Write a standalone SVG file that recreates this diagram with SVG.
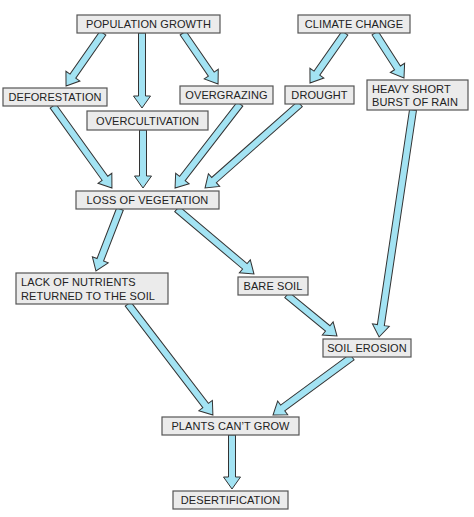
<svg xmlns="http://www.w3.org/2000/svg" width="474" height="517" viewBox="0 0 474 517">
<style>
.box rect{fill:#ebebeb;stroke:#555;stroke-width:1.2}
.box text{font-family:"Liberation Sans",Arial,sans-serif;font-size:11px;fill:#222;letter-spacing:0.1px}
.c{text-anchor:middle}
.arr{fill:#a3e3f3;stroke:#333;stroke-width:1;stroke-linejoin:miter}
</style>
<rect width="474" height="517" fill="#fff"/>
<g id="connectors">
<path class="arr" transform="translate(103,33) rotate(124.9)" d="M0,-3.5 H52.6 V-8.5 L64.6,0 L52.6,8.5 V3.5 H0 Z"/>
<path class="arr" transform="translate(142,33) rotate(90)" d="M0,-3.5 H63 V-8.5 L75,0 L63,8.5 V3.5 H0 Z"/>
<path class="arr" transform="translate(183,33) rotate(55.5)" d="M0,-3.5 H49.9 V-8.5 L61.9,0 L49.9,8.5 V3.5 H0 Z"/>
<path class="arr" transform="translate(345,33) rotate(125)" d="M0,-3.5 H49 V-8.5 L61,0 L49,8.5 V3.5 H0 Z"/>
<path class="arr" transform="translate(375,33) rotate(57.2)" d="M0,-3.5 H41.5 V-8.5 L53.5,0 L41.5,8.5 V3.5 H0 Z"/>
<path class="arr" transform="translate(53,106) rotate(54.3)" d="M0,-3.5 H89 V-8.5 L101,0 L89,8.5 V3.5 H0 Z"/>
<path class="arr" transform="translate(143,130) rotate(90)" d="M0,-3.5 H46 V-8.5 L58,0 L46,8.5 V3.5 H0 Z"/>
<path class="arr" transform="translate(240,104) rotate(127.7)" d="M0,-3.5 H94.2 V-8.5 L106.2,0 L94.2,8.5 V3.5 H0 Z"/>
<path class="arr" transform="translate(300,104) rotate(138.5)" d="M0,-3.5 H114.8 V-8.5 L126.8,0 L114.8,8.5 V3.5 H0 Z"/>
<path class="arr" transform="translate(120,209) rotate(111.2)" d="M0,-3.5 H54.5 V-8.5 L66.5,0 L54.5,8.5 V3.5 H0 Z"/>
<path class="arr" transform="translate(177,209) rotate(40.2)" d="M0,-3.5 H88.8 V-8.5 L100.8,0 L88.8,8.5 V3.5 H0 Z"/>
<path class="arr" transform="translate(413,110) rotate(98.5)" d="M0,-3.5 H217.5 V-8.5 L229.5,0 L217.5,8.5 V3.5 H0 Z"/>
<path class="arr" transform="translate(287,295) rotate(39.4)" d="M0,-3.5 H52.7 V-8.5 L64.7,0 L52.7,8.5 V3.5 H0 Z"/>
<path class="arr" transform="translate(128,304) rotate(52.6)" d="M0,-3.5 H127.8 V-8.5 L139.8,0 L127.8,8.5 V3.5 H0 Z"/>
<path class="arr" transform="translate(352,357) rotate(143.7)" d="M0,-3.5 H86 V-8.5 L98,0 L86,8.5 V3.5 H0 Z"/>
<path class="arr" transform="translate(232,435) rotate(90)" d="M0,-3.5 H42 V-8.5 L54,0 L42,8.5 V3.5 H0 Z"/>
</g>
<g id="population-growth" class="box"><rect x="77" y="15" width="143" height="18"/><text class="c" x="148.5" y="28">POPULATION GROWTH</text></g>
<g id="climate-change" class="box"><rect x="298" y="15" width="112" height="18"/><text class="c" x="354" y="28">CLIMATE CHANGE</text></g>
<g id="deforestation" class="box"><rect x="3" y="88" width="104" height="18"/><text class="c" x="55" y="101">DEFORESTATION</text></g>
<g id="overcultivation" class="box"><rect x="87" y="111" width="121" height="19"/><text class="c" x="147.5" y="124.5">OVERCULTIVATION</text></g>
<g id="overgrazing" class="box"><rect x="180" y="86" width="93" height="18"/><text class="c" x="226.5" y="99">OVERGRAZING</text></g>
<g id="drought" class="box"><rect x="285" y="86" width="69" height="18"/><text class="c" x="319.5" y="99">DROUGHT</text></g>
<g id="heavy-rain" class="box"><rect x="367" y="80" width="101" height="30"/><text x="372" y="93">HEAVY SHORT</text><text x="372" y="106">BURST OF RAIN</text></g>
<g id="loss-of-vegetation" class="box"><rect x="76" y="191" width="143" height="18"/><text class="c" x="147.5" y="204">LOSS OF VEGETATION</text></g>
<g id="lack-of-nutrients" class="box"><rect x="16" y="273" width="152" height="31"/><text x="21" y="286">LACK OF NUTRIENTS</text><text x="21" y="300">RETURNED TO THE SOIL</text></g>
<g id="bare-soil" class="box"><rect x="238" y="277" width="70" height="18"/><text class="c" x="273" y="290">BARE SOIL</text></g>
<g id="soil-erosion" class="box"><rect x="323" y="339" width="88" height="18"/><text class="c" x="367" y="352">SOIL EROSION</text></g>
<g id="plants-cant-grow" class="box"><rect x="162" y="417" width="137" height="18"/><text class="c" x="230.5" y="430">PLANTS CAN’T GROW</text></g>
<g id="desertification" class="box"><rect x="173" y="491" width="115" height="18"/><text class="c" x="230.5" y="504">DESERTIFICATION</text></g>
</svg>
